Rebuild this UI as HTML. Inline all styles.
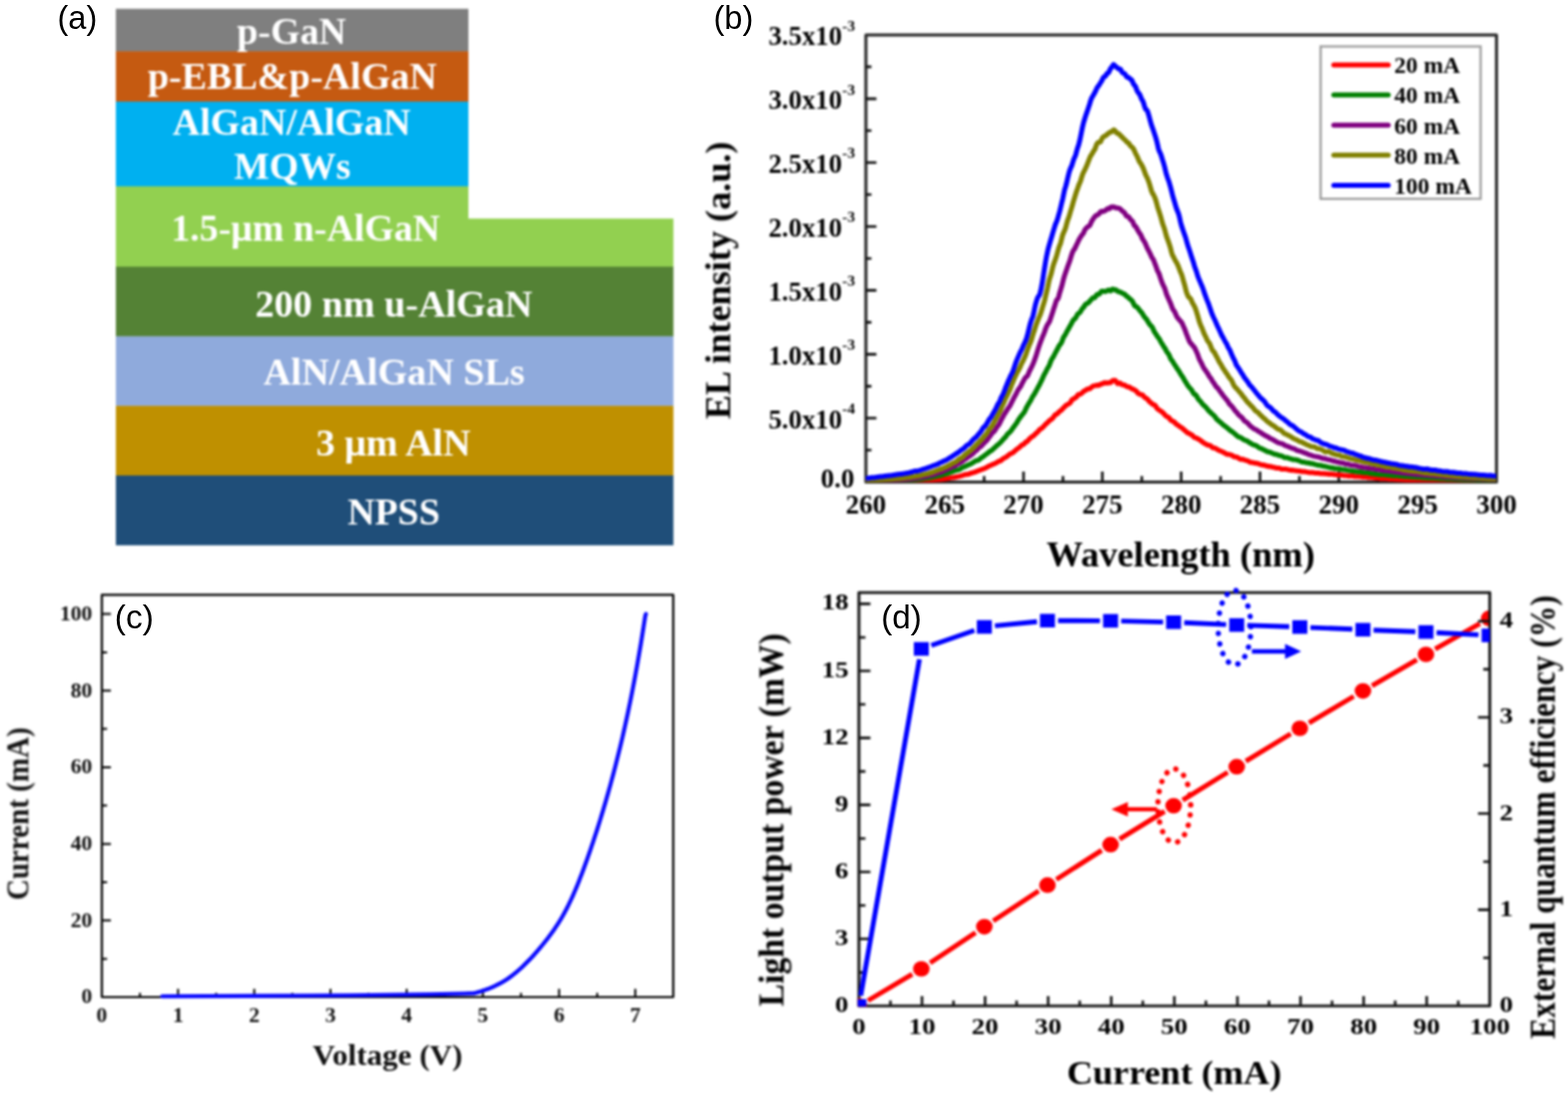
<!DOCTYPE html>
<html lang="en"><head><meta charset="utf-8"><title>Figure</title>
<style>
html,body{margin:0;padding:0;background:#fff;}
body{width:1570px;height:1096px;overflow:hidden;}
svg{display:block;}
.s{font-family:"Liberation Serif",serif;font-weight:bold;}
.a{font-family:"Liberation Sans",sans-serif;font-weight:normal;}
</style></head><body>
<svg width="1570" height="1096" viewBox="0 0 1570 1096">
<defs><filter id="bl" x="-2%" y="-2%" width="104%" height="104%" color-interpolation-filters="sRGB"><feGaussianBlur stdDeviation="0.8"/></filter></defs>
<rect width="1570" height="1096" fill="#fff"/>
<g id="pa" filter="url(#bl)">
<rect x="116" y="8.8" width="353" height="43.0" fill="#7f7f7f"/>
<rect x="116" y="51.3" width="353" height="50.9" fill="#c55a11"/>
<rect x="116" y="101.7" width="353" height="85.4" fill="#00b0f0"/>
<path d="M116 186.6H469V218.7H674.3V267.2H116Z" fill="#92d050"/>
<rect x="116" y="266.9" width="558.3" height="70.0" fill="#548235"/>
<rect x="116" y="336.6" width="558.3" height="69.9" fill="#8faadc"/>
<rect x="116" y="406.2" width="558.3" height="70.0" fill="#bf9000"/>
<rect x="116" y="475.9" width="558.3" height="69.9" fill="#1f4e79"/>
<g fill="#fff">
<text class="s" x="292" y="44" font-size="38.5" text-anchor="middle" textLength="109.4" lengthAdjust="spacingAndGlyphs" fill="#fff">p-GaN</text>
<text class="s" x="292.7" y="88.8" font-size="38.5" text-anchor="middle" textLength="289.6" lengthAdjust="spacingAndGlyphs" fill="#fff">p-EBL&amp;p-AlGaN</text>
<text class="s" x="292" y="134.8" font-size="38.5" text-anchor="middle" textLength="238.3" lengthAdjust="spacingAndGlyphs" fill="#fff">AlGaN/AlGaN</text>
<text class="s" x="292.7" y="178.7" font-size="38.5" text-anchor="middle" textLength="116.8" lengthAdjust="spacingAndGlyphs" fill="#fff">MQWs</text>
<text class="s" x="306" y="240.8" font-size="38.5" text-anchor="middle" textLength="269.2" lengthAdjust="spacingAndGlyphs" fill="#fff">1.5-μm n-AlGaN</text>
<text class="s" x="394.3" y="316.6" font-size="38.5" text-anchor="middle" textLength="277.7" lengthAdjust="spacingAndGlyphs" fill="#fff">200 nm u-AlGaN</text>
<text class="s" x="394.6" y="385.3" font-size="38.5" text-anchor="middle" textLength="261.7" lengthAdjust="spacingAndGlyphs" fill="#fff">AlN/AlGaN SLs</text>
<text class="s" x="393.8" y="455.7" font-size="38.5" text-anchor="middle" textLength="154.7" lengthAdjust="spacingAndGlyphs" fill="#fff">3 μm AlN</text>
<text class="s" x="394.2" y="525.3" font-size="38.5" text-anchor="middle" textLength="92.6" lengthAdjust="spacingAndGlyphs" fill="#fff">NPSS</text>
</g></g>
<g id="pb" filter="url(#bl)">
<rect x="867.0" y="34.9" width="631.4000000000001" height="447.6" fill="none" stroke="#262626" stroke-width="3.0" stroke-linejoin="round"/>
<path d="M867.0 450.53h5.5M867.0 418.56h10.5M867.0 386.59h5.5M867.0 354.61h10.5M867.0 322.64h5.5M867.0 290.67h10.5M867.0 258.70h5.5M867.0 226.73h10.5M867.0 194.76h5.5M867.0 162.79h10.5M867.0 130.81h5.5M867.0 98.84h10.5M867.0 66.87h5.5M906.46 482.5v-6M945.92 482.5v-10.5M985.39 482.5v-6M1024.85 482.5v-10.5M1064.31 482.5v-6M1103.78 482.5v-10.5M1143.24 482.5v-6M1182.70 482.5v-10.5M1222.16 482.5v-6M1261.62 482.5v-10.5M1301.09 482.5v-6M1340.55 482.5v-10.5M1380.01 482.5v-6M1419.48 482.5v-10.5M1458.94 482.5v-6" stroke="#111" stroke-width="2.6" fill="none"/>
<clipPath id="cb"><rect x="866.0" y="34.9" width="633.6000000000001" height="447.90000000000003"/></clipPath>
<g clip-path="url(#cb)" fill="none" stroke-width="5" stroke-linejoin="round" stroke-linecap="butt">
<polyline points="867,482.3 868,482.3 869,482.3 870,482.3 871,482.2 872,482.2 873,482.2 874,482.2 875,482.1 876,482.1 877,482.0 878,482.0 879,482.0 880,481.9 881,481.9 882,481.9 883,481.8 884,481.8 885,481.7 886,481.7 887,481.7 888,481.7 889,481.7 890,481.7 891,481.7 892,481.6 893,481.6 894,481.6 895,481.6 896,481.6 897,481.6 898,481.6 899,481.6 900,481.6 901,481.6 902,481.6 903,481.6 904,481.6 905,481.5 906,481.5 907,481.5 908,481.5 909,481.4 910,481.5 911,481.5 912,481.4 913,481.4 914,481.4 915,481.4 916,481.4 917,481.4 918,481.2 919,481.2 920,481.2 921,481.2 922,481.2 923,481.1 924,481.1 925,481.1 926,481.0 927,480.9 928,480.8 929,480.8 930,480.7 931,480.6 932,480.6 933,480.6 934,480.5 935,480.3 936,480.2 937,480.2 938,480.0 939,479.9 940,479.9 941,479.9 942,479.8 943,479.6 944,479.4 945,479.4 946,479.3 947,479.1 948,478.9 949,478.8 950,478.6 951,478.4 952,478.2 953,478.1 954,478.0 955,477.9 956,477.7 957,477.5 958,477.3 959,477.1 960,476.9 961,476.7 962,476.4 963,476.1 964,475.8 965,475.4 966,475.1 967,475.0 968,474.8 969,474.7 970,474.6 971,474.0 972,473.6 973,473.5 974,473.2 975,472.8 976,472.5 977,472.3 978,471.8 979,471.3 980,471.0 981,470.6 982,470.2 983,469.8 984,469.5 985,469.2 986,468.8 987,468.3 988,467.8 989,467.2 990,466.5 991,466.2 992,465.8 993,465.3 994,464.8 995,464.4 996,463.9 997,463.5 998,463.0 999,462.3 1000,461.7 1001,461.5 1002,461.1 1003,460.2 1004,459.4 1005,458.7 1006,458.1 1007,457.7 1008,457.0 1009,456.2 1010,455.4 1011,454.6 1012,454.1 1013,453.7 1014,453.1 1015,452.4 1016,451.5 1017,450.5 1018,449.7 1019,449.0 1020,448.3 1021,447.5 1022,446.6 1023,445.6 1024,445.1 1025,444.7 1026,443.6 1027,442.5 1028,442.2 1029,441.4 1030,440.1 1031,439.1 1032,438.2 1033,437.3 1034,436.8 1035,436.1 1036,435.0 1037,434.0 1038,433.2 1039,432.2 1040,431.1 1041,429.9 1042,429.2 1043,428.7 1044,427.7 1045,426.7 1046,425.7 1047,424.5 1048,423.7 1049,422.9 1050,421.8 1051,420.8 1052,420.1 1053,419.5 1054,418.5 1055,417.2 1056,415.8 1057,414.8 1058,414.5 1059,413.7 1060,412.6 1061,411.7 1062,411.0 1063,410.2 1064,409.1 1065,408.1 1066,407.2 1067,406.0 1068,405.4 1069,404.8 1070,404.2 1071,403.8 1072,402.5 1073,400.6 1074,399.6 1075,399.3 1076,398.5 1077,397.9 1078,397.2 1079,395.6 1080,394.7 1081,394.7 1082,394.4 1083,393.6 1084,392.8 1085,391.8 1086,391.0 1087,390.6 1088,389.9 1089,389.3 1090,389.3 1091,389.1 1092,388.4 1093,387.5 1094,386.8 1095,386.3 1096,386.1 1097,385.9 1098,385.6 1099,385.5 1100,385.7 1101,385.4 1102,384.5 1103,384.3 1104,384.1 1105,383.5 1106,382.9 1107,383.1 1108,383.4 1109,383.3 1110,383.0 1111,383.0 1112,382.9 1113,382.0 1114,380.9 1115,380.8 1116,380.7 1117,381.0 1118,382.6 1119,383.9 1120,383.8 1121,383.3 1122,383.8 1123,384.8 1124,385.1 1125,385.2 1126,385.5 1127,386.1 1128,386.8 1129,387.2 1130,387.3 1131,387.5 1132,388.2 1133,388.9 1134,389.4 1135,389.7 1136,390.3 1137,390.9 1138,391.7 1139,393.2 1140,394.0 1141,394.2 1142,394.9 1143,395.2 1144,395.2 1145,396.5 1146,397.7 1147,398.2 1148,398.8 1149,399.7 1150,400.9 1151,402.1 1152,402.8 1153,403.7 1154,404.6 1155,405.0 1156,405.3 1157,406.3 1158,408.0 1159,409.3 1160,410.0 1161,410.7 1162,411.3 1163,412.0 1164,412.8 1165,413.6 1166,414.8 1167,416.1 1168,416.7 1169,417.2 1170,417.7 1171,418.8 1172,420.2 1173,421.0 1174,421.4 1175,421.9 1176,422.6 1177,423.7 1178,424.8 1179,425.3 1180,426.0 1181,426.8 1182,427.4 1183,427.9 1184,428.7 1185,429.7 1186,430.6 1187,431.3 1188,432.3 1189,433.2 1190,433.4 1191,433.9 1192,434.7 1193,435.3 1194,435.8 1195,437.0 1196,437.9 1197,438.1 1198,438.4 1199,438.9 1200,439.6 1201,440.0 1202,440.7 1203,441.7 1204,442.2 1205,443.1 1206,443.9 1207,444.2 1208,444.8 1209,445.5 1210,445.6 1211,445.7 1212,446.1 1213,447.1 1214,448.0 1215,448.3 1216,448.3 1217,448.7 1218,449.3 1219,450.0 1220,450.5 1221,451.0 1222,451.4 1223,451.8 1224,452.2 1225,452.7 1226,453.2 1227,453.8 1228,454.5 1229,454.7 1230,454.7 1231,454.9 1232,455.3 1233,455.4 1234,455.9 1235,456.8 1236,457.3 1237,457.3 1238,457.4 1239,457.8 1240,458.4 1241,459.1 1242,459.7 1243,459.7 1244,459.6 1245,459.9 1246,460.3 1247,460.6 1248,460.9 1249,461.2 1250,461.6 1251,462.2 1252,462.7 1253,462.8 1254,462.9 1255,463.1 1256,463.4 1257,463.5 1258,463.7 1259,463.8 1260,464.1 1261,464.6 1262,464.9 1263,465.2 1264,465.4 1265,465.3 1266,465.6 1267,466.0 1268,466.3 1269,466.5 1270,466.8 1271,466.9 1272,466.8 1273,467.1 1274,467.6 1275,467.7 1276,467.7 1277,468.2 1278,468.5 1279,468.6 1280,468.6 1281,468.6 1282,468.9 1283,469.4 1284,469.5 1285,469.6 1286,469.6 1287,469.6 1288,469.6 1289,469.9 1290,470.2 1291,470.3 1292,470.6 1293,470.7 1294,470.6 1295,470.7 1296,470.9 1297,471.1 1298,471.2 1299,471.2 1300,471.4 1301,471.4 1302,471.5 1303,471.9 1304,472.0 1305,472.0 1306,472.1 1307,472.2 1308,472.4 1309,472.6 1310,472.8 1311,472.9 1312,472.9 1313,473.0 1314,473.0 1315,473.1 1316,473.3 1317,473.4 1318,473.5 1319,473.5 1320,473.5 1321,473.7 1322,473.9 1323,474.0 1324,474.0 1325,474.0 1326,474.0 1327,474.2 1328,474.2 1329,474.2 1330,474.5 1331,474.7 1332,474.6 1333,474.6 1334,474.7 1335,474.8 1336,475.0 1337,475.1 1338,475.2 1339,475.3 1340,475.4 1341,475.5 1342,475.4 1343,475.4 1344,475.6 1345,475.9 1346,476.0 1347,476.0 1348,476.1 1349,476.2 1350,476.4 1351,476.5 1352,476.3 1353,476.3 1354,476.4 1355,476.5 1356,476.8 1357,476.9 1358,476.8 1359,476.8 1360,477.1 1361,477.1 1362,477.1 1363,477.2 1364,477.4 1365,477.5 1366,477.5 1367,477.5 1368,477.5 1369,477.7 1370,478.0 1371,478.1 1372,478.0 1373,477.9 1374,478.0 1375,478.2 1376,478.3 1377,478.4 1378,478.4 1379,478.5 1380,478.6 1381,478.8 1382,479.0 1383,479.0 1384,479.0 1385,478.9 1386,479.0 1387,479.1 1388,479.1 1389,479.2 1390,479.3 1391,479.4 1392,479.5 1393,479.6 1394,479.6 1395,479.6 1396,479.7 1397,479.7 1398,479.8 1399,479.9 1400,480.0 1401,480.0 1402,480.0 1403,480.1 1404,480.2 1405,480.2 1406,480.2 1407,480.4 1408,480.5 1409,480.5 1410,480.6 1411,480.6 1412,480.6 1413,480.7 1414,480.8 1415,480.8 1416,480.9 1417,481.0 1418,481.0 1419,481.1 1420,481.1 1421,481.2 1422,481.2 1423,481.3 1424,481.3 1425,481.4 1426,481.4 1427,481.4 1428,481.5 1429,481.6 1430,481.6 1431,481.6 1432,481.6 1433,481.7 1434,481.8 1435,481.8 1436,481.8 1437,481.8 1438,481.9 1439,481.9 1440,481.9 1441,481.9 1442,481.9 1443,482.0 1444,482.0 1445,482.1 1446,482.1 1447,482.2 1448,482.2 1449,482.2 1450,482.2 1451,482.2 1452,482.2 1453,482.2 1454,482.3 1455,482.3 1456,482.3 1457,482.3 1458,482.3 1459,482.3 1460,482.3 1461,482.3 1462,482.3 1463,482.3 1464,482.3 1465,482.3 1466,482.3 1467,482.3 1468,482.3 1469,482.3 1470,482.3 1471,482.3 1472,482.3 1473,482.3 1474,482.3 1475,482.2 1476,482.3 1477,482.3 1478,482.3 1479,482.3 1480,482.3 1481,482.3 1482,482.3 1483,482.3 1484,482.3 1485,482.3 1486,482.3 1487,482.3 1488,482.3 1489,482.3 1490,482.3 1491,482.3 1492,482.3 1493,482.3 1494,482.3 1495,482.3 1496,482.3 1497,482.3 1498,482.3" stroke="#ff0000"/>
<polyline points="867,482.0 868,482.0 869,481.9 870,481.9 871,481.9 872,481.9 873,481.9 874,481.8 875,481.8 876,481.8 877,481.8 878,481.7 879,481.8 880,481.8 881,481.7 882,481.7 883,481.7 884,481.7 885,481.7 886,481.6 887,481.6 888,481.6 889,481.5 890,481.5 891,481.5 892,481.4 893,481.4 894,481.4 895,481.4 896,481.3 897,481.3 898,481.3 899,481.4 900,481.3 901,481.2 902,481.1 903,481.1 904,481.0 905,480.9 906,480.9 907,480.8 908,480.7 909,480.5 910,480.5 911,480.5 912,480.4 913,480.3 914,480.3 915,480.2 916,480.1 917,479.9 918,479.8 919,479.7 920,479.6 921,479.5 922,479.4 923,479.2 924,479.0 925,479.0 926,478.8 927,478.5 928,478.4 929,478.4 930,478.4 931,478.2 932,477.9 933,477.8 934,477.6 935,477.3 936,477.0 937,476.9 938,476.7 939,476.4 940,476.2 941,476.1 942,475.9 943,475.5 944,475.1 945,474.7 946,474.5 947,474.3 948,474.1 949,473.8 950,473.3 951,472.9 952,472.6 953,472.3 954,471.9 955,471.6 956,471.1 957,470.7 958,470.6 959,470.4 960,470.1 961,469.7 962,469.0 963,468.3 964,467.8 965,467.4 966,467.1 967,466.6 968,466.0 969,465.6 970,465.1 971,464.7 972,464.2 973,463.7 974,463.1 975,462.5 976,461.8 977,461.2 978,460.9 979,460.8 980,460.3 981,459.5 982,458.6 983,457.9 984,457.3 985,456.6 986,455.7 987,455.0 988,454.3 989,453.5 990,452.7 991,451.8 992,451.3 993,450.9 994,449.8 995,448.8 996,448.1 997,447.1 998,446.0 999,445.2 1000,444.5 1001,443.5 1002,442.6 1003,441.6 1004,440.3 1005,439.1 1006,438.2 1007,437.1 1008,435.6 1009,434.3 1010,433.5 1011,432.6 1012,431.6 1013,430.2 1014,428.6 1015,427.4 1016,426.0 1017,424.6 1018,423.3 1019,421.5 1020,419.8 1021,418.5 1022,417.0 1023,415.7 1024,414.6 1025,413.3 1026,411.8 1027,409.6 1028,407.4 1029,405.7 1030,404.0 1031,402.4 1032,400.9 1033,398.8 1034,396.8 1035,395.5 1036,393.9 1037,392.0 1038,390.2 1039,388.3 1040,386.5 1041,384.7 1042,382.7 1043,380.6 1044,378.4 1045,376.0 1046,374.1 1047,372.4 1048,370.3 1049,368.4 1050,366.9 1051,364.7 1052,361.9 1053,359.7 1054,358.2 1055,356.5 1056,354.5 1057,352.6 1058,350.8 1059,349.0 1060,346.9 1061,345.3 1062,344.3 1063,342.6 1064,339.7 1065,337.3 1066,335.8 1067,334.3 1068,332.2 1069,330.5 1070,328.9 1071,326.9 1072,325.2 1073,323.5 1074,321.4 1075,320.0 1076,319.2 1077,318.2 1078,316.3 1079,314.4 1080,313.6 1081,313.0 1082,311.7 1083,309.9 1084,308.5 1085,307.5 1086,306.0 1087,304.4 1088,303.9 1089,303.6 1090,302.8 1091,301.6 1092,300.4 1093,299.4 1094,298.3 1095,297.9 1096,298.1 1097,296.8 1098,295.2 1099,294.6 1100,294.5 1101,294.0 1102,292.6 1103,291.5 1104,291.5 1105,291.6 1106,291.7 1107,291.7 1108,291.3 1109,290.7 1110,290.2 1111,290.7 1112,291.1 1113,290.2 1114,289.3 1115,289.6 1116,290.2 1117,290.1 1118,290.6 1119,291.6 1120,292.0 1121,292.1 1122,292.5 1123,293.1 1124,293.6 1125,294.0 1126,294.4 1127,295.6 1128,296.6 1129,296.9 1130,297.9 1131,299.0 1132,299.6 1133,300.5 1134,301.8 1135,303.8 1136,305.9 1137,306.6 1138,306.9 1139,307.9 1140,309.1 1141,310.5 1142,311.8 1143,312.7 1144,314.2 1145,315.9 1146,317.4 1147,318.5 1148,319.5 1149,321.3 1150,323.0 1151,324.4 1152,325.7 1153,326.6 1154,327.9 1155,330.4 1156,332.4 1157,333.7 1158,335.3 1159,337.0 1160,338.2 1161,339.5 1162,341.6 1163,343.4 1164,344.8 1165,346.6 1166,348.0 1167,349.5 1168,351.8 1169,353.1 1170,354.2 1171,356.3 1172,358.7 1173,360.3 1174,361.6 1175,363.3 1176,364.9 1177,366.3 1178,367.9 1179,369.5 1180,370.8 1181,372.4 1182,374.1 1183,375.7 1184,377.0 1185,378.7 1186,380.6 1187,382.1 1188,383.7 1189,385.3 1190,386.8 1191,388.1 1192,389.0 1193,390.2 1194,391.8 1195,393.7 1196,394.7 1197,394.9 1198,396.2 1199,398.2 1200,399.7 1201,400.8 1202,401.8 1203,403.1 1204,404.3 1205,405.5 1206,406.3 1207,407.1 1208,408.3 1209,409.6 1210,410.9 1211,411.8 1212,412.7 1213,413.8 1214,414.6 1215,415.4 1216,416.4 1217,417.8 1218,419.2 1219,420.2 1220,421.0 1221,422.0 1222,422.7 1223,423.6 1224,424.6 1225,425.5 1226,426.1 1227,426.8 1228,427.7 1229,428.4 1230,429.2 1231,430.2 1232,431.0 1233,431.6 1234,432.3 1235,433.1 1236,433.9 1237,434.7 1238,435.7 1239,436.4 1240,437.2 1241,437.6 1242,437.8 1243,438.4 1244,439.2 1245,439.8 1246,440.4 1247,440.7 1248,441.1 1249,441.6 1250,442.2 1251,443.0 1252,443.6 1253,444.1 1254,444.8 1255,445.2 1256,445.4 1257,445.7 1258,446.2 1259,446.7 1260,447.6 1261,448.4 1262,448.7 1263,449.0 1264,449.4 1265,449.9 1266,450.4 1267,450.9 1268,451.5 1269,452.1 1270,452.3 1271,452.4 1272,452.7 1273,453.2 1274,453.6 1275,454.0 1276,454.5 1277,454.7 1278,454.7 1279,455.1 1280,455.7 1281,455.9 1282,456.0 1283,456.3 1284,456.6 1285,457.3 1286,458.0 1287,458.0 1288,457.9 1289,458.0 1290,458.5 1291,458.9 1292,459.0 1293,459.3 1294,459.8 1295,460.1 1296,460.1 1297,460.1 1298,460.3 1299,460.5 1300,460.8 1301,461.3 1302,461.7 1303,462.1 1304,462.5 1305,462.6 1306,462.6 1307,462.9 1308,463.2 1309,463.2 1310,463.3 1311,463.5 1312,463.8 1313,464.1 1314,464.0 1315,464.2 1316,464.6 1317,464.9 1318,465.2 1319,465.4 1320,465.7 1321,465.8 1322,465.8 1323,466.0 1324,466.3 1325,466.6 1326,466.7 1327,466.8 1328,467.1 1329,467.4 1330,467.6 1331,467.8 1332,468.2 1333,468.4 1334,468.2 1335,468.5 1336,469.0 1337,469.0 1338,469.0 1339,469.0 1340,469.2 1341,469.3 1342,469.5 1343,469.8 1344,469.9 1345,469.9 1346,470.0 1347,470.2 1348,470.4 1349,470.6 1350,470.9 1351,471.1 1352,471.2 1353,471.3 1354,471.4 1355,471.5 1356,471.7 1357,471.8 1358,471.9 1359,472.2 1360,472.2 1361,472.2 1362,472.3 1363,472.5 1364,472.7 1365,472.8 1366,473.0 1367,473.0 1368,472.9 1369,473.0 1370,473.2 1371,473.5 1372,473.8 1373,473.9 1374,473.8 1375,474.0 1376,474.3 1377,474.4 1378,474.4 1379,474.7 1380,474.9 1381,474.9 1382,474.9 1383,474.9 1384,475.0 1385,475.0 1386,475.0 1387,475.2 1388,475.3 1389,475.4 1390,475.7 1391,475.8 1392,475.7 1393,475.8 1394,475.9 1395,476.1 1396,476.2 1397,476.1 1398,476.1 1399,476.1 1400,476.3 1401,476.5 1402,476.5 1403,476.5 1404,476.6 1405,476.8 1406,476.9 1407,476.9 1408,476.9 1409,476.9 1410,477.1 1411,477.2 1412,477.2 1413,477.3 1414,477.4 1415,477.4 1416,477.5 1417,477.6 1418,477.7 1419,477.7 1420,477.7 1421,477.8 1422,477.8 1423,477.9 1424,478.1 1425,478.2 1426,478.2 1427,478.2 1428,478.4 1429,478.5 1430,478.5 1431,478.6 1432,478.5 1433,478.5 1434,478.6 1435,478.6 1436,478.6 1437,478.7 1438,478.7 1439,478.7 1440,478.8 1441,478.9 1442,479.1 1443,479.1 1444,479.1 1445,479.1 1446,479.1 1447,479.2 1448,479.2 1449,479.3 1450,479.4 1451,479.3 1452,479.3 1453,479.3 1454,479.3 1455,479.4 1456,479.6 1457,479.6 1458,479.5 1459,479.7 1460,479.8 1461,479.7 1462,479.7 1463,479.7 1464,479.8 1465,479.9 1466,480.0 1467,480.0 1468,480.1 1469,480.1 1470,480.0 1471,480.0 1472,480.0 1473,480.1 1474,480.1 1475,480.2 1476,480.2 1477,480.2 1478,480.3 1479,480.4 1480,480.4 1481,480.4 1482,480.4 1483,480.4 1484,480.3 1485,480.3 1486,480.4 1487,480.4 1488,480.5 1489,480.6 1490,480.6 1491,480.6 1492,480.7 1493,480.7 1494,480.6 1495,480.7 1496,480.7 1497,480.8 1498,480.8" stroke="#008000"/>
<polyline points="867,481.8 868,481.7 869,481.7 870,481.6 871,481.6 872,481.5 873,481.5 874,481.5 875,481.4 876,481.3 877,481.3 878,481.2 879,481.2 880,481.2 881,481.1 882,481.0 883,480.9 884,480.9 885,480.9 886,480.9 887,480.9 888,480.8 889,480.8 890,480.8 891,480.6 892,480.5 893,480.4 894,480.4 895,480.5 896,480.4 897,480.4 898,480.4 899,480.3 900,480.2 901,480.1 902,480.0 903,480.0 904,479.9 905,479.8 906,479.7 907,479.7 908,479.5 909,479.4 910,479.3 911,479.2 912,479.2 913,479.1 914,478.9 915,478.7 916,478.6 917,478.5 918,478.4 919,478.1 920,477.8 921,477.7 922,477.7 923,477.6 924,477.4 925,477.1 926,476.9 927,476.8 928,476.7 929,476.3 930,475.9 931,475.7 932,475.6 933,475.6 934,475.2 935,474.9 936,474.5 937,474.1 938,473.8 939,473.4 940,473.1 941,472.9 942,472.6 943,472.2 944,471.7 945,471.2 946,470.7 947,470.4 948,469.9 949,469.3 950,468.9 951,468.4 952,467.9 953,467.3 954,466.9 955,466.7 956,466.4 957,465.8 958,465.0 959,464.4 960,464.0 961,463.3 962,462.7 963,462.3 964,461.4 965,460.4 966,459.8 967,459.3 968,458.6 969,457.6 970,456.9 971,456.5 972,455.7 973,454.8 974,454.1 975,453.2 976,452.0 977,451.3 978,450.6 979,449.4 980,448.3 981,447.6 982,447.1 983,446.0 984,444.8 985,443.9 986,442.8 987,441.8 988,440.9 989,439.7 990,438.1 991,436.7 992,435.6 993,434.0 994,432.7 995,432.2 996,431.1 997,429.4 998,427.7 999,426.5 1000,425.3 1001,423.5 1002,421.4 1003,419.4 1004,417.6 1005,415.6 1006,414.0 1007,412.6 1008,410.9 1009,409.3 1010,407.9 1011,406.6 1012,404.7 1013,402.6 1014,400.7 1015,398.6 1016,396.8 1017,395.1 1018,393.0 1019,391.0 1020,389.3 1021,388.1 1022,386.7 1023,384.6 1024,382.7 1025,380.8 1026,378.9 1027,377.6 1028,377.0 1029,375.8 1030,373.4 1031,371.0 1032,369.1 1033,367.1 1034,365.0 1035,362.6 1036,360.0 1037,357.2 1038,354.0 1039,350.7 1040,347.5 1041,344.7 1042,341.9 1043,339.3 1044,336.7 1045,334.4 1046,331.9 1047,328.9 1048,326.5 1049,324.6 1050,323.2 1051,321.5 1052,318.5 1053,315.5 1054,312.4 1055,309.2 1056,306.4 1057,303.0 1058,300.2 1059,299.5 1060,297.1 1061,293.2 1062,290.0 1063,286.8 1064,282.9 1065,278.8 1066,275.5 1067,272.7 1068,269.8 1069,266.9 1070,264.2 1071,261.6 1072,258.3 1073,255.1 1074,252.1 1075,250.3 1076,249.1 1077,246.9 1078,244.9 1079,242.8 1080,240.5 1081,238.7 1082,237.1 1083,235.6 1084,234.6 1085,232.9 1086,230.6 1087,228.9 1088,227.9 1089,226.9 1090,226.4 1091,225.8 1092,223.8 1093,221.6 1094,219.9 1095,218.4 1096,217.1 1097,216.1 1098,215.4 1099,214.9 1100,214.3 1101,213.2 1102,211.9 1103,211.4 1104,211.7 1105,211.5 1106,211.1 1107,210.6 1108,209.7 1109,208.8 1110,209.0 1111,208.9 1112,207.4 1113,207.1 1114,207.3 1115,206.9 1116,207.4 1117,208.0 1118,208.0 1119,208.2 1120,208.4 1121,208.7 1122,209.5 1123,210.5 1124,211.6 1125,212.1 1126,212.9 1127,214.9 1128,216.3 1129,216.5 1130,217.0 1131,218.2 1132,219.8 1133,220.6 1134,221.5 1135,224.2 1136,226.2 1137,226.5 1138,228.1 1139,230.1 1140,231.7 1141,233.4 1142,234.6 1143,236.8 1144,239.3 1145,240.6 1146,242.2 1147,244.2 1148,246.6 1149,248.9 1150,250.7 1151,252.6 1152,254.6 1153,257.0 1154,258.7 1155,260.2 1156,262.8 1157,265.4 1158,268.3 1159,271.1 1160,272.7 1161,275.2 1162,278.5 1163,281.4 1164,284.0 1165,286.1 1166,288.0 1167,291.1 1168,294.4 1169,296.9 1170,298.9 1171,301.2 1172,303.4 1173,306.1 1174,308.9 1175,310.5 1176,311.8 1177,313.9 1178,316.3 1179,318.0 1180,319.1 1181,320.3 1182,321.5 1183,322.5 1184,324.4 1185,326.8 1186,328.9 1187,331.5 1188,334.4 1189,336.8 1190,339.4 1191,341.9 1192,343.3 1193,344.2 1194,345.6 1195,346.7 1196,347.9 1197,349.9 1198,352.0 1199,354.2 1200,357.1 1201,359.8 1202,361.7 1203,363.5 1204,365.7 1205,367.8 1206,369.3 1207,370.7 1208,372.2 1209,373.5 1210,375.3 1211,377.1 1212,378.2 1213,379.7 1214,381.6 1215,382.9 1216,384.3 1217,386.1 1218,387.4 1219,388.1 1220,389.4 1221,390.9 1222,392.2 1223,393.5 1224,395.0 1225,396.3 1226,397.5 1227,398.8 1228,400.1 1229,401.1 1230,402.7 1231,404.4 1232,405.3 1233,406.3 1234,407.4 1235,408.7 1236,410.2 1237,411.5 1238,412.4 1239,413.6 1240,415.0 1241,415.9 1242,416.7 1243,417.5 1244,418.5 1245,419.9 1246,421.3 1247,421.8 1248,422.4 1249,423.3 1250,424.3 1251,425.4 1252,426.4 1253,427.3 1254,428.0 1255,428.7 1256,429.4 1257,429.8 1258,430.2 1259,430.9 1260,431.8 1261,432.2 1262,432.7 1263,433.6 1264,434.3 1265,434.8 1266,435.4 1267,436.1 1268,436.6 1269,436.9 1270,437.5 1271,438.3 1272,438.9 1273,439.3 1274,439.7 1275,440.2 1276,440.9 1277,441.5 1278,442.0 1279,442.7 1280,443.1 1281,443.4 1282,443.8 1283,443.9 1284,444.1 1285,444.7 1286,445.4 1287,445.9 1288,446.3 1289,446.6 1290,446.9 1291,447.5 1292,447.8 1293,448.2 1294,448.7 1295,448.9 1296,449.2 1297,449.7 1298,450.4 1299,450.9 1300,451.2 1301,451.3 1302,451.6 1303,452.0 1304,452.4 1305,452.7 1306,453.2 1307,453.5 1308,453.7 1309,454.3 1310,454.8 1311,455.1 1312,455.4 1313,455.7 1314,456.1 1315,456.4 1316,456.6 1317,456.9 1318,457.1 1319,457.2 1320,457.3 1321,457.7 1322,458.0 1323,458.2 1324,458.6 1325,459.0 1326,459.0 1327,459.1 1328,459.5 1329,459.9 1330,460.1 1331,460.2 1332,460.4 1333,460.8 1334,461.2 1335,461.3 1336,461.5 1337,461.8 1338,462.2 1339,462.4 1340,462.4 1341,462.8 1342,463.2 1343,463.2 1344,463.3 1345,463.5 1346,463.8 1347,464.3 1348,464.6 1349,464.4 1350,464.5 1351,465.1 1352,465.4 1353,465.6 1354,465.7 1355,465.7 1356,465.8 1357,465.9 1358,466.1 1359,466.5 1360,466.8 1361,467.2 1362,467.2 1363,467.2 1364,467.6 1365,467.9 1366,467.9 1367,467.9 1368,468.2 1369,468.5 1370,468.5 1371,468.6 1372,468.9 1373,469.0 1374,469.0 1375,469.2 1376,469.4 1377,469.6 1378,469.9 1379,470.1 1380,470.1 1381,470.1 1382,470.4 1383,470.7 1384,470.8 1385,470.9 1386,470.9 1387,471.0 1388,471.2 1389,471.2 1390,471.3 1391,471.6 1392,471.7 1393,471.8 1394,471.8 1395,471.9 1396,472.1 1397,472.3 1398,472.4 1399,472.5 1400,472.7 1401,472.8 1402,472.9 1403,473.1 1404,473.2 1405,473.3 1406,473.5 1407,473.6 1408,473.7 1409,473.9 1410,474.0 1411,474.1 1412,474.1 1413,474.2 1414,474.3 1415,474.4 1416,474.5 1417,474.8 1418,474.8 1419,474.9 1420,475.1 1421,475.1 1422,475.1 1423,475.1 1424,475.2 1425,475.4 1426,475.6 1427,475.5 1428,475.5 1429,475.7 1430,475.7 1431,475.8 1432,475.9 1433,475.9 1434,476.0 1435,476.1 1436,476.2 1437,476.3 1438,476.3 1439,476.5 1440,476.5 1441,476.5 1442,476.5 1443,476.6 1444,476.8 1445,476.9 1446,477.0 1447,477.2 1448,477.3 1449,477.3 1450,477.2 1451,477.3 1452,477.4 1453,477.5 1454,477.6 1455,477.7 1456,477.8 1457,477.8 1458,477.9 1459,477.9 1460,477.9 1461,478.0 1462,478.1 1463,478.1 1464,478.2 1465,478.3 1466,478.3 1467,478.3 1468,478.4 1469,478.4 1470,478.6 1471,478.5 1472,478.4 1473,478.5 1474,478.7 1475,478.8 1476,478.9 1477,478.8 1478,478.8 1479,478.9 1480,479.1 1481,479.1 1482,479.1 1483,479.1 1484,479.2 1485,479.2 1486,479.2 1487,479.2 1488,479.2 1489,479.4 1490,479.5 1491,479.5 1492,479.5 1493,479.7 1494,479.7 1495,479.8 1496,479.8 1497,479.8 1498,479.8" stroke="#800080"/>
<polyline points="867,481.3 868,481.3 869,481.2 870,481.1 871,481.1 872,481.0 873,480.9 874,480.8 875,480.7 876,480.6 877,480.5 878,480.5 879,480.4 880,480.3 881,480.3 882,480.3 883,480.3 884,480.1 885,480.1 886,480.1 887,479.9 888,479.8 889,479.8 890,479.7 891,479.7 892,479.6 893,479.6 894,479.4 895,479.3 896,479.2 897,479.2 898,479.1 899,479.0 900,479.0 901,478.9 902,478.7 903,478.5 904,478.4 905,478.4 906,478.3 907,478.1 908,478.0 909,477.8 910,477.7 911,477.7 912,477.6 913,477.3 914,477.1 915,477.0 916,476.9 917,476.7 918,476.4 919,476.3 920,476.2 921,476.0 922,475.7 923,475.5 924,475.2 925,474.9 926,474.8 927,474.6 928,474.3 929,474.2 930,473.9 931,473.4 932,473.1 933,473.0 934,472.7 935,472.1 936,471.7 937,471.4 938,471.0 939,470.6 940,470.2 941,469.8 942,469.4 943,469.2 944,468.7 945,468.3 946,467.9 947,467.5 948,466.9 949,466.3 950,465.9 951,465.5 952,464.9 953,464.1 954,463.6 955,463.2 956,462.7 957,462.3 958,461.5 959,460.6 960,459.8 961,459.1 962,458.5 963,458.1 964,457.6 965,456.4 966,455.2 967,454.5 968,453.9 969,452.9 970,452.1 971,451.4 972,450.7 973,449.7 974,448.7 975,447.9 976,446.9 977,445.7 978,444.6 979,443.8 980,442.8 981,441.6 982,440.7 983,439.8 984,438.5 985,437.2 986,436.0 987,435.1 988,433.9 989,432.1 990,430.2 991,428.9 992,428.1 993,426.8 994,425.1 995,423.3 996,421.3 997,419.5 998,417.8 999,415.8 1000,413.8 1001,412.2 1002,410.3 1003,407.6 1004,405.3 1005,403.4 1006,400.9 1007,398.4 1008,396.7 1009,394.6 1010,392.4 1011,390.5 1012,387.8 1013,385.1 1014,382.7 1015,380.2 1016,378.0 1017,376.0 1018,373.7 1019,371.8 1020,370.2 1021,368.2 1022,365.9 1023,363.8 1024,361.8 1025,359.8 1026,357.6 1027,355.3 1028,352.5 1029,349.5 1030,346.8 1031,344.4 1032,342.2 1033,339.4 1034,335.9 1035,332.6 1036,329.6 1037,326.4 1038,323.7 1039,321.1 1040,318.4 1041,316.2 1042,313.8 1043,310.6 1044,307.0 1045,303.9 1046,300.6 1047,296.3 1048,292.2 1049,287.8 1050,282.7 1051,278.6 1052,275.7 1053,272.2 1054,267.7 1055,264.3 1056,261.6 1057,258.8 1058,255.7 1059,252.1 1060,248.5 1061,245.7 1062,243.2 1063,239.2 1064,235.2 1065,232.7 1066,230.6 1067,227.8 1068,224.0 1069,220.5 1070,217.9 1071,214.8 1072,211.2 1073,208.0 1074,204.5 1075,200.9 1076,197.7 1077,194.4 1078,191.4 1079,188.6 1080,185.6 1081,183.4 1082,181.0 1083,177.5 1084,174.4 1085,172.2 1086,170.4 1087,168.2 1088,165.9 1089,163.5 1090,160.9 1091,158.3 1092,156.1 1093,154.8 1094,153.1 1095,151.2 1096,150.0 1097,147.5 1098,144.5 1099,143.1 1100,142.4 1101,142.4 1102,141.8 1103,139.4 1104,137.7 1105,136.8 1106,136.2 1107,135.9 1108,135.0 1109,133.9 1110,133.4 1111,132.5 1112,132.1 1113,132.0 1114,131.0 1115,130.0 1116,130.3 1117,131.5 1118,132.9 1119,133.6 1120,133.7 1121,134.6 1122,135.9 1123,136.6 1124,137.7 1125,138.8 1126,139.6 1127,140.5 1128,141.9 1129,142.6 1130,143.0 1131,144.7 1132,146.1 1133,146.9 1134,147.8 1135,149.1 1136,151.3 1137,153.6 1138,155.4 1139,157.3 1140,160.0 1141,162.1 1142,163.3 1143,165.0 1144,166.9 1145,169.1 1146,171.8 1147,174.6 1148,176.7 1149,178.7 1150,181.3 1151,184.2 1152,187.7 1153,191.2 1154,193.5 1155,195.0 1156,197.0 1157,199.5 1158,203.0 1159,206.9 1160,210.0 1161,213.0 1162,216.2 1163,219.9 1164,223.6 1165,226.3 1166,229.2 1167,232.9 1168,236.6 1169,239.4 1170,242.1 1171,245.0 1172,248.3 1173,252.4 1174,255.5 1175,257.1 1176,259.2 1177,261.2 1178,262.6 1179,264.8 1180,267.1 1181,269.7 1182,272.4 1183,274.4 1184,277.6 1185,281.3 1186,284.7 1187,288.7 1188,292.5 1189,295.2 1190,297.2 1191,298.1 1192,298.8 1193,300.9 1194,303.2 1195,304.9 1196,306.7 1197,308.9 1198,312.0 1199,315.3 1200,318.8 1201,322.3 1202,324.9 1203,327.2 1204,329.5 1205,332.3 1206,334.7 1207,336.5 1208,338.8 1209,341.1 1210,342.2 1211,343.5 1212,345.8 1213,348.5 1214,350.6 1215,351.7 1216,352.8 1217,354.8 1218,356.8 1219,358.5 1220,360.7 1221,362.6 1222,364.0 1223,365.7 1224,367.6 1225,369.2 1226,370.5 1227,372.2 1228,373.6 1229,374.9 1230,376.7 1231,378.1 1232,379.2 1233,380.5 1234,382.5 1235,384.9 1236,386.6 1237,387.7 1238,388.8 1239,389.8 1240,391.0 1241,392.3 1242,393.2 1243,394.5 1244,396.0 1245,397.2 1246,398.3 1247,399.7 1248,401.1 1249,402.4 1250,403.3 1251,404.3 1252,405.4 1253,406.4 1254,407.3 1255,408.5 1256,409.9 1257,411.1 1258,411.9 1259,412.3 1260,413.2 1261,414.4 1262,415.4 1263,416.2 1264,417.2 1265,418.3 1266,419.0 1267,419.8 1268,421.0 1269,421.9 1270,422.4 1271,423.2 1272,424.0 1273,424.9 1274,425.5 1275,425.9 1276,426.7 1277,427.5 1278,428.3 1279,429.1 1280,429.7 1281,429.9 1282,430.2 1283,431.1 1284,431.9 1285,432.9 1286,433.9 1287,434.3 1288,434.7 1289,435.2 1290,435.8 1291,436.3 1292,436.7 1293,437.4 1294,438.2 1295,438.8 1296,439.3 1297,439.7 1298,440.1 1299,440.6 1300,441.2 1301,441.8 1302,442.1 1303,442.3 1304,442.8 1305,443.6 1306,443.8 1307,444.3 1308,445.0 1309,445.4 1310,445.6 1311,446.0 1312,446.7 1313,447.0 1314,447.1 1315,447.2 1316,447.3 1317,447.8 1318,448.4 1319,448.9 1320,449.0 1321,449.1 1322,449.5 1323,449.9 1324,450.3 1325,451.0 1326,451.7 1327,452.2 1328,452.2 1329,452.1 1330,452.0 1331,452.1 1332,452.7 1333,453.4 1334,453.9 1335,454.3 1336,454.5 1337,454.8 1338,455.2 1339,455.4 1340,455.4 1341,455.5 1342,456.0 1343,456.7 1344,457.1 1345,457.1 1346,457.1 1347,457.4 1348,457.8 1349,458.0 1350,458.4 1351,458.6 1352,458.9 1353,459.3 1354,459.5 1355,459.6 1356,459.8 1357,460.2 1358,460.5 1359,460.7 1360,460.9 1361,461.0 1362,461.2 1363,461.6 1364,461.9 1365,462.2 1366,462.4 1367,462.3 1368,462.5 1369,462.9 1370,463.1 1371,463.3 1372,463.7 1373,464.0 1374,464.2 1375,464.4 1376,464.6 1377,464.7 1378,465.0 1379,465.3 1380,465.5 1381,465.5 1382,465.7 1383,466.0 1384,466.3 1385,466.4 1386,466.6 1387,467.0 1388,467.4 1389,467.4 1390,467.5 1391,467.5 1392,467.5 1393,467.8 1394,468.2 1395,468.4 1396,468.5 1397,468.6 1398,468.8 1399,469.0 1400,469.1 1401,469.3 1402,469.4 1403,469.6 1404,470.1 1405,470.3 1406,470.4 1407,470.5 1408,470.7 1409,470.9 1410,471.1 1411,471.2 1412,471.2 1413,471.3 1414,471.5 1415,471.6 1416,471.7 1417,471.7 1418,471.7 1419,471.8 1420,472.0 1421,472.3 1422,472.5 1423,472.5 1424,472.8 1425,473.1 1426,473.2 1427,473.4 1428,473.5 1429,473.5 1430,473.6 1431,473.8 1432,473.9 1433,474.0 1434,474.0 1435,474.0 1436,474.1 1437,474.3 1438,474.4 1439,474.4 1440,474.6 1441,474.8 1442,475.0 1443,475.0 1444,475.0 1445,475.1 1446,475.3 1447,475.4 1448,475.5 1449,475.7 1450,475.8 1451,475.8 1452,476.0 1453,476.1 1454,476.2 1455,476.3 1456,476.4 1457,476.4 1458,476.5 1459,476.7 1460,476.8 1461,476.9 1462,476.9 1463,477.0 1464,477.1 1465,477.2 1466,477.1 1467,477.1 1468,477.3 1469,477.4 1470,477.4 1471,477.4 1472,477.6 1473,477.8 1474,477.8 1475,477.8 1476,477.9 1477,478.0 1478,478.1 1479,478.0 1480,478.0 1481,478.1 1482,478.3 1483,478.2 1484,478.3 1485,478.5 1486,478.6 1487,478.6 1488,478.7 1489,478.8 1490,478.9 1491,478.9 1492,478.9 1493,479.0 1494,479.1 1495,479.1 1496,479.1 1497,479.1 1498,479.1" stroke="#808000"/>
<polyline points="867,479.1 868,478.9 869,478.7 870,478.6 871,478.3 872,478.2 873,478.1 874,478.0 875,478.0 876,477.9 877,477.7 878,477.6 879,477.5 880,477.3 881,477.1 882,477.1 883,477.0 884,476.9 885,476.7 886,476.5 887,476.4 888,476.3 889,476.2 890,476.1 891,475.9 892,475.9 893,475.8 894,475.6 895,475.5 896,475.3 897,475.1 898,475.0 899,474.8 900,474.7 901,474.6 902,474.6 903,474.5 904,474.2 905,474.1 906,473.9 907,473.7 908,473.5 909,473.4 910,473.3 911,472.9 912,472.6 913,472.5 914,472.2 915,471.8 916,471.5 917,471.6 918,471.5 919,471.3 920,471.1 921,470.8 922,470.4 923,470.1 924,469.7 925,469.4 926,469.3 927,468.9 928,468.4 929,468.1 930,467.8 931,467.4 932,467.1 933,466.7 934,466.1 935,465.9 936,465.7 937,465.1 938,464.8 939,464.5 940,464.0 941,463.3 942,462.9 943,462.6 944,462.1 945,461.4 946,460.9 947,460.7 948,460.2 949,459.5 950,458.8 951,458.3 952,457.8 953,457.1 954,456.3 955,455.7 956,455.1 957,454.3 958,453.8 959,453.1 960,452.4 961,451.6 962,450.7 963,450.1 964,449.5 965,448.8 966,447.9 967,446.7 968,445.8 969,445.2 970,444.7 971,444.0 972,442.8 973,441.5 974,440.5 975,439.3 976,438.4 977,437.9 978,436.8 979,435.5 980,434.4 981,433.3 982,432.0 983,430.6 984,428.8 985,427.5 986,426.7 987,425.6 988,423.9 989,422.2 990,420.5 991,419.0 992,417.8 993,416.2 994,414.4 995,412.7 996,411.0 997,409.2 998,407.0 999,404.9 1000,403.3 1001,401.7 1002,399.1 1003,396.9 1004,395.1 1005,393.0 1006,390.4 1007,387.6 1008,385.3 1009,382.8 1010,380.4 1011,378.3 1012,375.9 1013,374.1 1014,372.2 1015,369.3 1016,366.2 1017,363.2 1018,360.6 1019,358.2 1020,356.0 1021,353.7 1022,351.7 1023,349.8 1024,347.4 1025,345.0 1026,343.0 1027,340.9 1028,338.0 1029,334.4 1030,330.3 1031,326.2 1032,322.5 1033,319.5 1034,317.2 1035,313.4 1036,308.2 1037,303.9 1038,300.7 1039,297.9 1040,296.3 1041,294.8 1042,291.2 1043,286.3 1044,280.4 1045,273.8 1046,267.5 1047,261.4 1048,255.9 1049,251.2 1050,247.2 1051,243.7 1052,240.3 1053,237.0 1054,233.5 1055,230.3 1056,226.9 1057,223.9 1058,221.8 1059,218.8 1060,215.1 1061,211.6 1062,207.5 1063,203.2 1064,199.3 1065,194.4 1066,189.8 1067,186.7 1068,183.0 1069,178.5 1070,174.3 1071,170.7 1072,168.2 1073,166.2 1074,163.1 1075,159.7 1076,157.4 1077,155.2 1078,151.4 1079,147.9 1080,145.1 1081,141.2 1082,136.5 1083,131.5 1084,126.6 1085,122.5 1086,119.2 1087,116.0 1088,113.1 1089,110.2 1090,107.3 1091,104.3 1092,100.8 1093,98.1 1094,96.5 1095,94.8 1096,93.0 1097,91.1 1098,88.7 1099,87.0 1100,85.9 1101,84.4 1102,82.6 1103,81.2 1104,79.2 1105,77.2 1106,76.7 1107,76.0 1108,74.1 1109,73.2 1110,72.7 1111,70.6 1112,68.5 1113,67.5 1114,65.9 1115,64.7 1116,65.3 1117,66.5 1118,67.2 1119,68.1 1120,69.1 1121,68.9 1122,69.5 1123,71.4 1124,72.9 1125,73.3 1126,73.6 1127,75.1 1128,76.8 1129,77.4 1130,77.5 1131,78.4 1132,79.3 1133,79.9 1134,81.9 1135,84.3 1136,85.3 1137,86.7 1138,89.4 1139,91.7 1140,93.1 1141,94.2 1142,96.5 1143,99.1 1144,100.6 1145,102.9 1146,106.5 1147,109.2 1148,109.9 1149,111.2 1150,114.4 1151,118.1 1152,121.9 1153,125.4 1154,128.1 1155,130.9 1156,134.0 1157,137.1 1158,140.4 1159,144.6 1160,149.1 1161,151.8 1162,153.7 1163,156.6 1164,160.0 1165,163.1 1166,166.7 1167,170.8 1168,174.8 1169,177.8 1170,180.5 1171,183.6 1172,187.2 1173,191.2 1174,195.2 1175,198.7 1176,202.0 1177,205.5 1178,208.8 1179,211.3 1180,213.7 1181,217.4 1182,222.1 1183,225.9 1184,228.9 1185,231.8 1186,234.6 1187,237.4 1188,240.9 1189,244.6 1190,247.7 1191,250.4 1192,253.5 1193,256.9 1194,259.7 1195,262.8 1196,266.3 1197,269.1 1198,271.9 1199,275.3 1200,278.1 1201,280.5 1202,282.9 1203,285.2 1204,287.5 1205,290.3 1206,293.5 1207,296.1 1208,298.9 1209,301.4 1210,303.7 1211,306.7 1212,309.6 1213,312.6 1214,315.3 1215,317.5 1216,319.5 1217,321.6 1218,324.1 1219,326.3 1220,328.3 1221,330.5 1222,332.7 1223,335.0 1224,336.9 1225,338.5 1226,340.5 1227,342.4 1228,343.8 1229,346.1 1230,348.3 1231,349.5 1232,351.8 1233,354.3 1234,356.6 1235,358.8 1236,360.4 1237,362.9 1238,365.5 1239,366.9 1240,368.3 1241,369.8 1242,371.5 1243,373.2 1244,374.5 1245,376.2 1246,378.0 1247,379.1 1248,380.5 1249,381.9 1250,383.3 1251,385.0 1252,386.1 1253,386.9 1254,388.2 1255,389.5 1256,390.7 1257,392.0 1258,393.3 1259,394.5 1260,395.7 1261,396.9 1262,398.0 1263,399.0 1264,399.8 1265,400.6 1266,401.7 1267,403.2 1268,404.7 1269,406.0 1270,406.7 1271,407.2 1272,408.0 1273,409.0 1274,410.1 1275,411.3 1276,412.1 1277,412.4 1278,413.4 1279,414.7 1280,415.5 1281,416.3 1282,417.2 1283,417.8 1284,418.5 1285,419.1 1286,419.8 1287,420.9 1288,421.6 1289,422.2 1290,423.2 1291,424.2 1292,424.9 1293,425.4 1294,425.9 1295,426.6 1296,427.4 1297,428.4 1298,429.2 1299,430.1 1300,431.0 1301,431.5 1302,432.0 1303,432.5 1304,433.1 1305,434.0 1306,434.5 1307,434.8 1308,435.6 1309,436.4 1310,436.9 1311,437.2 1312,437.4 1313,438.1 1314,439.1 1315,439.4 1316,439.6 1317,440.2 1318,440.6 1319,440.7 1320,441.0 1321,441.8 1322,442.6 1323,443.2 1324,443.6 1325,444.1 1326,444.4 1327,444.5 1328,444.9 1329,445.3 1330,445.7 1331,446.2 1332,446.6 1333,446.9 1334,447.1 1335,447.7 1336,448.3 1337,448.2 1338,448.3 1339,448.9 1340,449.4 1341,449.6 1342,449.8 1343,450.1 1344,450.3 1345,450.4 1346,450.8 1347,451.3 1348,451.8 1349,452.1 1350,452.4 1351,452.8 1352,453.2 1353,453.4 1354,453.4 1355,453.8 1356,454.3 1357,454.6 1358,455.0 1359,455.4 1360,455.7 1361,456.1 1362,456.5 1363,456.6 1364,457.2 1365,457.8 1366,457.9 1367,458.0 1368,458.5 1369,458.8 1370,458.8 1371,459.0 1372,459.4 1373,459.7 1374,460.0 1375,460.2 1376,460.4 1377,460.5 1378,460.7 1379,460.9 1380,461.2 1381,461.4 1382,461.7 1383,462.1 1384,462.2 1385,462.3 1386,462.6 1387,462.8 1388,463.0 1389,463.3 1390,463.5 1391,463.6 1392,463.7 1393,464.1 1394,464.3 1395,464.2 1396,464.4 1397,464.7 1398,464.7 1399,465.0 1400,465.4 1401,465.6 1402,465.9 1403,466.0 1404,466.0 1405,466.2 1406,466.4 1407,466.6 1408,466.7 1409,466.8 1410,467.0 1411,467.3 1412,467.3 1413,467.2 1414,467.4 1415,467.6 1416,467.7 1417,467.8 1418,467.9 1419,468.2 1420,468.5 1421,468.7 1422,468.9 1423,469.1 1424,469.3 1425,469.5 1426,469.6 1427,469.5 1428,469.4 1429,469.3 1430,469.6 1431,470.1 1432,470.2 1433,470.3 1434,470.5 1435,470.6 1436,470.5 1437,470.5 1438,470.7 1439,471.0 1440,471.2 1441,471.2 1442,471.3 1443,471.6 1444,471.8 1445,471.9 1446,472.0 1447,472.1 1448,472.1 1449,472.0 1450,472.2 1451,472.5 1452,472.7 1453,472.7 1454,472.7 1455,472.8 1456,473.0 1457,473.0 1458,473.2 1459,473.5 1460,473.5 1461,473.4 1462,473.4 1463,473.6 1464,473.9 1465,474.0 1466,474.0 1467,474.0 1468,474.1 1469,474.2 1470,474.4 1471,474.6 1472,474.7 1473,474.6 1474,474.7 1475,474.8 1476,474.8 1477,474.8 1478,474.9 1479,475.1 1480,475.2 1481,475.3 1482,475.4 1483,475.5 1484,475.5 1485,475.5 1486,475.6 1487,475.8 1488,475.8 1489,475.9 1490,475.9 1491,475.9 1492,475.8 1493,476.0 1494,476.2 1495,476.3 1496,476.4 1497,476.4 1498,476.4" stroke="#0000ff"/>
</g>
<text class="s" x="855.5" y="488.1" font-size="27" text-anchor="end">0.0</text>
<text class="s" x="843" y="428.95714285714286" font-size="27" text-anchor="end" textLength="73.5" lengthAdjust="spacingAndGlyphs">5.0x10</text>
<text class="s" x="843.3" y="414.25714285714287" font-size="14.5" textLength="12.8" lengthAdjust="spacingAndGlyphs">-4</text>
<text class="s" x="843" y="365.0142857142857" font-size="27" text-anchor="end" textLength="73.5" lengthAdjust="spacingAndGlyphs">1.0x10</text>
<text class="s" x="843.3" y="350.3142857142857" font-size="14.5" textLength="12.8" lengthAdjust="spacingAndGlyphs">-3</text>
<text class="s" x="843" y="301.07142857142856" font-size="27" text-anchor="end" textLength="73.5" lengthAdjust="spacingAndGlyphs">1.5x10</text>
<text class="s" x="843.3" y="286.37142857142857" font-size="14.5" textLength="12.8" lengthAdjust="spacingAndGlyphs">-3</text>
<text class="s" x="843" y="237.12857142857143" font-size="27" text-anchor="end" textLength="73.5" lengthAdjust="spacingAndGlyphs">2.0x10</text>
<text class="s" x="843.3" y="222.42857142857142" font-size="14.5" textLength="12.8" lengthAdjust="spacingAndGlyphs">-3</text>
<text class="s" x="843" y="173.18571428571428" font-size="27" text-anchor="end" textLength="73.5" lengthAdjust="spacingAndGlyphs">2.5x10</text>
<text class="s" x="843.3" y="158.48571428571427" font-size="14.5" textLength="12.8" lengthAdjust="spacingAndGlyphs">-3</text>
<text class="s" x="843" y="109.2428571428571" font-size="27" text-anchor="end" textLength="73.5" lengthAdjust="spacingAndGlyphs">3.0x10</text>
<text class="s" x="843.3" y="94.5428571428571" font-size="14.5" textLength="12.8" lengthAdjust="spacingAndGlyphs">-3</text>
<text class="s" x="843" y="45.299999999999976" font-size="27" text-anchor="end" textLength="73.5" lengthAdjust="spacingAndGlyphs">3.5x10</text>
<text class="s" x="843.3" y="30.599999999999977" font-size="14.5" textLength="12.8" lengthAdjust="spacingAndGlyphs">-3</text>
<text class="s" x="867.0" y="514.2" font-size="27" text-anchor="middle">260</text>
<text class="s" x="945.9" y="514.2" font-size="27" text-anchor="middle">265</text>
<text class="s" x="1024.8" y="514.2" font-size="27" text-anchor="middle">270</text>
<text class="s" x="1103.8" y="514.2" font-size="27" text-anchor="middle">275</text>
<text class="s" x="1182.7" y="514.2" font-size="27" text-anchor="middle">280</text>
<text class="s" x="1261.6" y="514.2" font-size="27" text-anchor="middle">285</text>
<text class="s" x="1340.6" y="514.2" font-size="27" text-anchor="middle">290</text>
<text class="s" x="1419.5" y="514.2" font-size="27" text-anchor="middle">295</text>
<text class="s" x="1498.4" y="514.2" font-size="27" text-anchor="middle">300</text>
<text class="s" x="1182.2" y="567" font-size="36" text-anchor="middle" textLength="269" lengthAdjust="spacingAndGlyphs">Wavelength (nm)</text>
<text class="s" x="730.7" y="280.6" font-size="36.5" text-anchor="middle" textLength="278" lengthAdjust="spacingAndGlyphs" transform="rotate(-90 730.7 280.6)">EL intensity (a.u.)</text>
<rect x="1322.3" y="46.5" width="160.2" height="152.5" fill="#fff" stroke="#9a9a9a" stroke-width="2.2"/>
<path d="M1335.5 65.0H1390" stroke="#ff0000" stroke-width="5" stroke-linecap="round"/>
<text class="s" x="1396" y="73.3" font-size="23.5">20 mA</text>
<path d="M1335.5 95.1H1390" stroke="#008000" stroke-width="5" stroke-linecap="round"/>
<text class="s" x="1396" y="103.39999999999999" font-size="23.5">40 mA</text>
<path d="M1335.5 125.2H1390" stroke="#800080" stroke-width="5" stroke-linecap="round"/>
<text class="s" x="1396" y="133.5" font-size="23.5">60 mA</text>
<path d="M1335.5 155.3H1390" stroke="#808000" stroke-width="5" stroke-linecap="round"/>
<text class="s" x="1396" y="163.60000000000002" font-size="23.5">80 mA</text>
<path d="M1335.5 185.4H1390" stroke="#0000ff" stroke-width="5" stroke-linecap="round"/>
<text class="s" x="1396" y="193.70000000000002" font-size="23.5">100 mA</text>
</g>
<g id="pc" filter="url(#bl)">
<rect x="102.0" y="595.3" width="572.1" height="402.70000000000005" fill="none" stroke="#000" stroke-width="2.2" stroke-linejoin="round"/>
<path d="M102.0 959.66h5.2M102.0 921.32h9M102.0 882.98h5.2M102.0 844.64h9M102.0 806.30h5.2M102.0 767.96h9M102.0 729.62h5.2M102.0 691.28h9M102.0 652.94h5.2M102.0 614.60h9M140.15 998.0v-4.2M178.30 998.0v-8.2M216.45 998.0v-4.2M254.60 998.0v-8.2M292.75 998.0v-4.2M330.90 998.0v-8.2M369.05 998.0v-4.2M407.20 998.0v-8.2M445.35 998.0v-4.2M483.50 998.0v-8.2M521.65 998.0v-4.2M559.80 998.0v-8.2M597.95 998.0v-4.2M636.10 998.0v-8.2" stroke="#000" stroke-width="2.0" fill="none"/>
<path d="M162.4 997.2L250.0 996.9L350.0 996.3L430.0 995.3L465.0 994.5L474.5 994.1L476.0 993.9L477.0 993.6L478.0 993.3L479.0 993.0L480.0 992.7L481.0 992.4L482.0 992.1L483.0 991.8L484.0 991.5L485.0 991.1L486.0 990.8L487.0 990.4L488.0 990.0L489.0 989.7L490.0 989.3L491.0 988.9L492.0 988.5L493.0 988.0L494.0 987.6L495.0 987.1L496.0 986.7L497.0 986.2L498.0 985.7L499.0 985.2L500.0 984.7L501.0 984.1L502.0 983.6L503.0 983.0L504.0 982.4L505.0 981.8L506.0 981.2L507.0 980.5L508.0 979.9L509.0 979.2L510.0 978.5L511.0 977.8L512.0 977.0L513.0 976.3L514.0 975.5L515.0 974.7L516.0 973.9L517.0 973.1L518.0 972.2L519.0 971.3L520.0 970.5L521.0 969.6L522.0 968.7L523.0 967.7L524.0 966.8L525.0 965.8L526.0 964.8L527.0 963.8L528.0 962.8L529.0 961.8L530.0 960.8L531.0 959.7L532.0 958.7L533.0 957.6L534.0 956.5L535.0 955.4L536.0 954.2L537.0 953.1L538.0 952.0L539.0 950.8L540.0 949.6L541.0 948.4L542.0 947.2L543.0 946.0L544.0 944.8L545.0 943.5L546.0 942.3L547.0 941.0L548.0 939.7L549.0 938.4L550.0 937.1L551.0 935.8L552.0 934.4L553.0 933.0L554.0 931.6L555.0 930.2L556.0 928.7L557.0 927.2L558.0 925.7L559.0 924.1L560.0 922.5L561.0 920.9L562.0 919.2L563.0 917.5L564.0 915.7L565.0 913.9L566.0 912.1L567.0 910.2L568.0 908.3L569.0 906.3L570.0 904.2L571.0 902.2L572.0 900.0L573.0 897.8L574.0 895.6L575.0 893.3L576.0 891.0L577.0 888.6L578.0 886.2L579.0 883.7L580.0 881.2L581.0 878.6L582.0 876.0L583.0 873.4L584.0 870.7L585.0 868.0L586.0 865.2L587.0 862.5L588.0 859.7L589.0 856.8L590.0 854.0L591.0 851.1L592.0 848.2L593.0 845.2L594.0 842.3L595.0 839.2L596.0 836.2L597.0 833.1L598.0 830.0L599.0 826.9L600.0 823.7L601.0 820.5L602.0 817.2L603.0 813.9L604.0 810.6L605.0 807.2L606.0 803.8L607.0 800.4L608.0 796.9L609.0 793.4L610.0 789.8L611.0 786.2L612.0 782.5L613.0 778.8L614.0 775.1L615.0 771.3L616.0 767.5L617.0 763.6L618.0 759.6L619.0 755.6L620.0 751.6L621.0 747.5L622.0 743.3L623.0 739.1L624.0 734.7L625.0 730.3L626.0 725.9L627.0 721.3L628.0 716.7L629.0 712.0L630.0 707.2L631.0 702.4L632.0 697.4L633.0 692.4L634.0 687.2L635.0 682.0L636.0 676.6L637.0 671.2L638.0 665.6L639.0 659.9L640.0 654.2L641.0 648.3L642.0 642.3L643.0 636.1L644.0 629.9L645.0 623.5L646.0 617.0L646.7 614.5" stroke="#0a0aff" stroke-width="4.1" fill="none" stroke-linecap="round" stroke-linejoin="round"/>
<text class="s" x="92.3" y="1004.4" font-size="20" text-anchor="end" textLength="10.8" lengthAdjust="spacingAndGlyphs" fill="#111">0</text>
<text class="s" x="92.3" y="927.7199999999999" font-size="20" text-anchor="end" textLength="21.6" lengthAdjust="spacingAndGlyphs" fill="#111">20</text>
<text class="s" x="92.3" y="851.04" font-size="20" text-anchor="end" textLength="21.6" lengthAdjust="spacingAndGlyphs" fill="#111">40</text>
<text class="s" x="92.3" y="774.36" font-size="20" text-anchor="end" textLength="21.6" lengthAdjust="spacingAndGlyphs" fill="#111">60</text>
<text class="s" x="92.3" y="697.68" font-size="20" text-anchor="end" textLength="21.6" lengthAdjust="spacingAndGlyphs" fill="#111">80</text>
<text class="s" x="92.3" y="621.0" font-size="20" text-anchor="end" textLength="32.4" lengthAdjust="spacingAndGlyphs" fill="#111">100</text>
<text class="s" x="102.0" y="1023.3" font-size="20" text-anchor="middle" textLength="10.8" lengthAdjust="spacingAndGlyphs" fill="#111">0</text>
<text class="s" x="178.3" y="1023.3" font-size="20" text-anchor="middle" textLength="10.8" lengthAdjust="spacingAndGlyphs" fill="#111">1</text>
<text class="s" x="254.6" y="1023.3" font-size="20" text-anchor="middle" textLength="10.8" lengthAdjust="spacingAndGlyphs" fill="#111">2</text>
<text class="s" x="330.9" y="1023.3" font-size="20" text-anchor="middle" textLength="10.8" lengthAdjust="spacingAndGlyphs" fill="#111">3</text>
<text class="s" x="407.2" y="1023.3" font-size="20" text-anchor="middle" textLength="10.8" lengthAdjust="spacingAndGlyphs" fill="#111">4</text>
<text class="s" x="483.5" y="1023.3" font-size="20" text-anchor="middle" textLength="10.8" lengthAdjust="spacingAndGlyphs" fill="#111">5</text>
<text class="s" x="559.8" y="1023.3" font-size="20" text-anchor="middle" textLength="10.8" lengthAdjust="spacingAndGlyphs" fill="#111">6</text>
<text class="s" x="636.1" y="1023.3" font-size="20" text-anchor="middle" textLength="10.8" lengthAdjust="spacingAndGlyphs" fill="#111">7</text>
<text class="s" x="388.1" y="1066" font-size="29.5" text-anchor="middle" textLength="150" lengthAdjust="spacingAndGlyphs" fill="#111">Voltage (V)</text>
<text class="s" x="27.9" y="814.5" font-size="32.5" text-anchor="middle" textLength="173" lengthAdjust="spacingAndGlyphs" transform="rotate(-90 27.9 814.5)" fill="#111">Current (mA)</text>
</g>
<g id="pd" filter="url(#bl)">
<clipPath id="cd"><rect x="858.8" y="593.1" width="632.9000000000001" height="414.4"/></clipPath>
<path d="M1491.7 593.1H860.0V1006.9H1491.7" fill="none" stroke="#141414" stroke-width="2.9" stroke-linejoin="round"/>
<path d="M860.0 973.36h6.5M860.0 939.82h11.5M860.0 906.28h6.5M860.0 872.74h11.5M860.0 839.20h6.5M860.0 805.66h11.5M860.0 772.12h6.5M860.0 738.58h11.5M860.0 705.04h6.5M860.0 671.50h11.5M860.0 637.96h6.5M860.0 604.42h11.5M891.59 1006.9v-5.5M923.17 1006.9v-10M954.75 1006.9v-5.5M986.34 1006.9v-10M1017.92 1006.9v-5.5M1049.51 1006.9v-10M1081.10 1006.9v-5.5M1112.68 1006.9v-10M1144.27 1006.9v-5.5M1175.85 1006.9v-10M1207.43 1006.9v-5.5M1239.02 1006.9v-10M1270.61 1006.9v-5.5M1302.19 1006.9v-10M1333.78 1006.9v-5.5M1365.36 1006.9v-10M1396.95 1006.9v-5.5M1428.53 1006.9v-10M1460.12 1006.9v-5.5" stroke="#141414" stroke-width="2.6" fill="none"/>
<g clip-path="url(#cd)"><path d="M869.1 1001.5L913.4 975.1M931.3 963.8L976.8 933.5M994.5 921.8L1040.0 891.7M1057.7 880.2L1103.1 851.1M1121.0 839.8L1166.1 812.1M1184.2 800.9L1229.3 773.0M1247.4 761.9L1292.4 734.5M1310.6 723.6L1355.5 697.0M1373.8 686.3L1418.7 660.3M1437.0 649.7L1481.8 624.2" stroke="#ff0000" stroke-width="4.9" fill="none"/>
<ellipse cx="860.0" cy="1006.9" rx="8.3" ry="7.8" fill="#ff0000"/>
<ellipse cx="922.5" cy="969.7" rx="8.3" ry="7.8" fill="#ff0000"/>
<ellipse cx="985.6" cy="927.6" rx="8.3" ry="7.8" fill="#ff0000"/>
<ellipse cx="1048.8" cy="885.9" rx="8.3" ry="7.8" fill="#ff0000"/>
<ellipse cx="1112.0" cy="845.4" rx="8.3" ry="7.8" fill="#ff0000"/>
<ellipse cx="1175.1" cy="806.5" rx="8.3" ry="7.8" fill="#ff0000"/>
<ellipse cx="1238.3" cy="767.4" rx="8.3" ry="7.8" fill="#ff0000"/>
<ellipse cx="1301.5" cy="729.0" rx="8.3" ry="7.8" fill="#ff0000"/>
<ellipse cx="1364.7" cy="691.6" rx="8.3" ry="7.8" fill="#ff0000"/>
<ellipse cx="1427.8" cy="655.0" rx="8.3" ry="7.8" fill="#ff0000"/>
<ellipse cx="1491.0" cy="618.9" rx="8.3" ry="7.8" fill="#ff0000"/>
</g>
<path d="M1491.7 593.1V1006.9" fill="none" stroke="#141414" stroke-width="2.9" stroke-linecap="round"/>
<path d="M1491.7 958.75h-6.5M1491.7 910.60h-11.8M1491.7 862.45h-6.5M1491.7 814.30h-11.8M1491.7 766.15h-6.5M1491.7 718.00h-11.8M1491.7 669.85h-6.5M1491.7 621.70h-11.8" stroke="#141414" stroke-width="2.6" fill="none"/>
<g clip-path="url(#cd)"><path d="M861.8 996.5L920.6 659.9M932.5 646.0L975.6 631.0M996.2 626.4L1038.3 622.3M1059.4 621.2L1101.4 621.4M1122.6 621.6L1164.6 622.6M1185.7 623.3L1227.7 625.1M1248.9 625.9L1290.9 627.3M1312.1 628.1L1354.1 629.8M1375.3 630.7L1417.2 632.2M1438.4 633.2L1480.4 635.4" stroke="#0000ff" stroke-width="4.9" fill="none"/>
<rect x="852.5" y="1000.1" width="15" height="13.6" fill="#0000ff"/>
<rect x="915.0" y="642.7" width="15" height="13.6" fill="#0000ff"/>
<rect x="978.1" y="620.7" width="15" height="13.6" fill="#0000ff"/>
<rect x="1041.3" y="614.4" width="15" height="13.6" fill="#0000ff"/>
<rect x="1104.5" y="614.6" width="15" height="13.6" fill="#0000ff"/>
<rect x="1167.6" y="616.0" width="15" height="13.6" fill="#0000ff"/>
<rect x="1230.8" y="618.8" width="15" height="13.6" fill="#0000ff"/>
<rect x="1294.0" y="620.8" width="15" height="13.6" fill="#0000ff"/>
<rect x="1357.2" y="623.5" width="15" height="13.6" fill="#0000ff"/>
<rect x="1420.3" y="625.8" width="15" height="13.6" fill="#0000ff"/>
<rect x="1483.5" y="629.2" width="15" height="13.6" fill="#0000ff"/>
</g>
<ellipse cx="1236.1" cy="628.1" rx="16.4" ry="37.2" pathLength="17" fill="none" stroke="#0000ff" stroke-width="5.4" stroke-dasharray="0.01 0.99" stroke-dashoffset="0.1" stroke-linecap="round"/>
<path d="M1253.5 652H1289" stroke="#0000ff" stroke-width="4.4" fill="none"/><path d="M1286.7 644.4L1302.9 652L1286.7 659.6Z" fill="#0000ff"/>
<ellipse cx="1175.8" cy="806.5" rx="16.4" ry="36.9" pathLength="17" fill="none" stroke="#ff0000" stroke-width="5.4" stroke-dasharray="0.01 0.99" stroke-dashoffset="0.1" stroke-linecap="round"/>
<path d="M1158.5 810H1127" stroke="#ff0000" stroke-width="4.2" fill="none"/><path d="M1129.3 802.7L1112.7 810L1129.3 817.3Z" fill="#ff0000"/>
<text class="s" x="849.6" y="1012.9" font-size="23" text-anchor="end" textLength="13.5" lengthAdjust="spacingAndGlyphs">0</text>
<text class="s" x="849.6" y="945.8199999999999" font-size="23" text-anchor="end" textLength="13.5" lengthAdjust="spacingAndGlyphs">3</text>
<text class="s" x="849.6" y="878.74" font-size="23" text-anchor="end" textLength="13.5" lengthAdjust="spacingAndGlyphs">6</text>
<text class="s" x="849.6" y="811.66" font-size="23" text-anchor="end" textLength="13.5" lengthAdjust="spacingAndGlyphs">9</text>
<text class="s" x="849.6" y="744.5799999999999" font-size="23" text-anchor="end" textLength="26.9" lengthAdjust="spacingAndGlyphs">12</text>
<text class="s" x="849.6" y="677.5" font-size="23" text-anchor="end" textLength="26.9" lengthAdjust="spacingAndGlyphs">15</text>
<text class="s" x="849.6" y="610.42" font-size="23" text-anchor="end" textLength="26.9" lengthAdjust="spacingAndGlyphs">18</text>
<text class="s" x="1501.6" y="1013.1" font-size="23" textLength="13.5" lengthAdjust="spacingAndGlyphs">0</text>
<text class="s" x="1501.6" y="916.8000000000001" font-size="23" textLength="13.5" lengthAdjust="spacingAndGlyphs">1</text>
<text class="s" x="1501.6" y="820.5" font-size="23" textLength="13.5" lengthAdjust="spacingAndGlyphs">2</text>
<text class="s" x="1501.6" y="724.2" font-size="23" textLength="13.5" lengthAdjust="spacingAndGlyphs">3</text>
<text class="s" x="1501.6" y="627.9000000000001" font-size="23" textLength="13.5" lengthAdjust="spacingAndGlyphs">4</text>
<text class="s" x="860.0" y="1035.0" font-size="23" text-anchor="middle" textLength="13.5" lengthAdjust="spacingAndGlyphs">0</text>
<text class="s" x="923.2" y="1035.0" font-size="23" text-anchor="middle" textLength="26.9" lengthAdjust="spacingAndGlyphs">10</text>
<text class="s" x="986.3" y="1035.0" font-size="23" text-anchor="middle" textLength="26.9" lengthAdjust="spacingAndGlyphs">20</text>
<text class="s" x="1049.5" y="1035.0" font-size="23" text-anchor="middle" textLength="26.9" lengthAdjust="spacingAndGlyphs">30</text>
<text class="s" x="1112.7" y="1035.0" font-size="23" text-anchor="middle" textLength="26.9" lengthAdjust="spacingAndGlyphs">40</text>
<text class="s" x="1175.8" y="1035.0" font-size="23" text-anchor="middle" textLength="26.9" lengthAdjust="spacingAndGlyphs">50</text>
<text class="s" x="1239.0" y="1035.0" font-size="23" text-anchor="middle" textLength="26.9" lengthAdjust="spacingAndGlyphs">60</text>
<text class="s" x="1302.2" y="1035.0" font-size="23" text-anchor="middle" textLength="26.9" lengthAdjust="spacingAndGlyphs">70</text>
<text class="s" x="1365.4" y="1035.0" font-size="23" text-anchor="middle" textLength="26.9" lengthAdjust="spacingAndGlyphs">80</text>
<text class="s" x="1428.5" y="1035.0" font-size="23" text-anchor="middle" textLength="26.9" lengthAdjust="spacingAndGlyphs">90</text>
<text class="s" x="1491.7" y="1035.0" font-size="23" text-anchor="middle" textLength="40.4" lengthAdjust="spacingAndGlyphs">100</text>
<text class="s" x="1175.7" y="1084.5" font-size="34.5" text-anchor="middle" textLength="215" lengthAdjust="spacingAndGlyphs">Current (mA)</text>
<text class="s" x="784.0" y="820.6" font-size="36.5" text-anchor="middle" textLength="373.5" lengthAdjust="spacingAndGlyphs" transform="rotate(-90 784.0 820.6)">Light output power (mW)</text>
<text class="s" x="1556.7" y="817.9" font-size="35" text-anchor="middle" textLength="444" lengthAdjust="spacingAndGlyphs" transform="rotate(-90 1556.7 817.9)">External quantum efficiency (%)</text>
</g>
<g id="lab">
<text class="a" x="57.5" y="29" font-size="34" textLength="39.8" lengthAdjust="spacingAndGlyphs">(a)</text>
<text class="a" x="714.5" y="29" font-size="34" textLength="39.8" lengthAdjust="spacingAndGlyphs">(b)</text>
<text class="a" x="114.8" y="628.5" font-size="34" textLength="39.0" lengthAdjust="spacingAndGlyphs">(c)</text>
<text class="a" x="882.2" y="629" font-size="34" textLength="40.8" lengthAdjust="spacingAndGlyphs">(d)</text>
</g>
</svg>
</body></html>
